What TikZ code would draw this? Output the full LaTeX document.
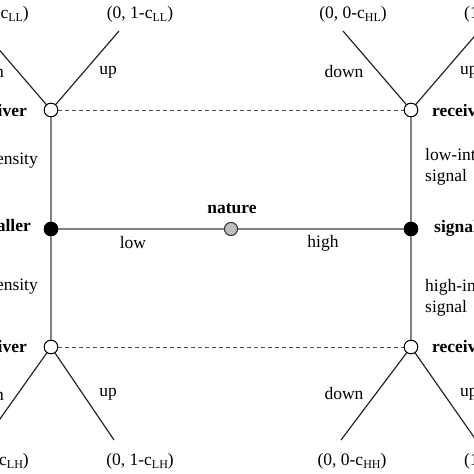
\documentclass[tikz,border=0pt]{standalone}
\usepackage{fontspec}
\setmainfont{Liberation Serif}
\newcommand\paysub[1]{\raisebox{-3.5pt}{\fontsize{12}{12}\selectfont #1}}
\begin{document}
\begin{tikzpicture}[x=1pt,y=-1pt,
  font=\fontsize{17.5}{21}\selectfont,
  every node/.style={inner sep=0pt},
  opennode/.style={circle,draw=black,fill=white,minimum size=13.5pt,line width=0.9pt},
  solidnode/.style={circle,draw=black,fill=black,minimum size=13.5pt,line width=0.9pt},
  naturenode/.style={circle,draw=black!80,fill=black!25,minimum size=13pt,line width=0.9pt},
  trunk/.style={draw=black!50,line width=1.6pt},
  branch/.style={draw=black!85,line width=1.2pt},
  info/.style={draw=black!70,line width=0.8pt,dash pattern=on 4pt off 3pt},
  lbl/.style={align=left},
  playername/.style={font=\fontsize{17.5}{21}\selectfont\bfseries}]
\useasboundingbox (0,0) rectangle (474,474);
\clip (0,0) rectangle (474,474);

% decision nodes
\node[solidnode] (sL) at (51,229) {};
\node[solidnode] (sR) at (411,229) {};
\node[naturenode] (nat) at (231,229) {};
\node[opennode] (rTL) at (51,110) {};
\node[opennode] (rTR) at (411,110) {};
\node[opennode] (rBL) at (51,347) {};
\node[opennode] (rBR) at (411,347) {};

% branch ends
\coordinate (eTL1) at (-17,31);
\coordinate (eTL2) at (119,31);
\coordinate (eTR1) at (343,31);
\coordinate (eTR2) at (479,31);
\coordinate (eBL1) at (-15,440);
\coordinate (eBL2) at (114,440);
\coordinate (eBR1) at (341,440);
\coordinate (eBR2) at (476,440);

% trunk lines
\draw[trunk] (nat) -- (sL);
\draw[trunk] (nat) -- (sR);
\draw[trunk] (sL) -- (rTL);
\draw[trunk] (sL) -- (rBL);
\draw[trunk] (sR) -- (rTR);
\draw[trunk] (sR) -- (rBR);

% information sets
\draw[info] (rTL) -- (rTR);
\draw[info] (rBL) -- (rBR);

% receiver branches
\draw[branch] (rTL.center) -- (eTL1);
\draw[branch] (rTL.center) -- (eTL2);
\draw[branch] (rTR.center) -- (eTR1);
\draw[branch] (rTR.center) -- (eTR2);
\draw[branch] (rBL.center) -- (eBL1);
\draw[branch] (rBL.center) -- (eBL2);
\draw[branch] (rBR.center) -- (eBR1);
\draw[branch] (rBR.center) -- (eBR2);

% redraw nodes on top
\node[solidnode] at (sL) {};
\node[solidnode] at (sR) {};
\node[naturenode] at (nat) {};
\node[opennode] at (rTL) {};
\node[opennode] at (rTR) {};
\node[opennode] at (rBL) {};
\node[opennode] at (rBR) {};

% player names
\node[playername,anchor=south] (tNat) at (232,214) {nature};
\node[playername,anchor=east] (tSL) at (31,227) {signaller};
\node[playername,anchor=west] (tSR) at (434,228) {signaller};
\node[playername,anchor=east] (tRTL) at (27,111) {receiver};
\node[playername,anchor=west] (tRTR) at (432,111) {receiver};
\node[playername,anchor=east] (tRBL) at (27,347) {receiver};
\node[playername,anchor=west] (tRBR) at (432,347) {receiver};

% nature moves
\node (tLow) at (133,243) {low};
\node (tHigh) at (323,243) {high};

% signals
\node[lbl,anchor=north east] (tSig1) at (38,152) {low-intensity\\signal};
\node[lbl,anchor=north west] (tSig2) at (425,148) {low-intensity\\signal};
\node[lbl,anchor=north east] (tSig3) at (38,278) {high-intensity\\signal};
\node[lbl,anchor=north west] (tSig4) at (425,279) {high-intensity\\signal};

% receiver actions
\node[anchor=east] (aTL1) at (4,72) {down};
\node (aTL2) at (108,72) {up};
\node (aTR1) at (344,72) {down};
\node[anchor=west] (aTR2) at (460,72) {up};
\node[anchor=east] (aBL1) at (4,395) {down};
\node (aBL2) at (108,394) {up};
\node (aBR1) at (344,394) {down};
\node[anchor=west] (aBR2) at (460,394) {up};

% payoffs
\node[anchor=east] (pTL1) at (29,14) {(1, 0-c\paysub{LL})};
\node (pTL2) at (140,14) {(0, 1-c\paysub{LL})};
\node (pTR1) at (353,14) {(0, 0-c\paysub{HL})};
\node[anchor=west] (pTR2) at (464,14) {(1, 1-c\paysub{HL})};
\node[anchor=east] (pBL1) at (29,461) {(1, 0-c\paysub{LH})};
\node (pBL2) at (140,461) {(0, 1-c\paysub{LH})};
\node (pBR1) at (352,461) {(0, 0-c\paysub{HH})};
\node[anchor=west] (pBR2) at (464,461) {(1, 1-c\paysub{HH})};
\end{tikzpicture}
\end{document}
